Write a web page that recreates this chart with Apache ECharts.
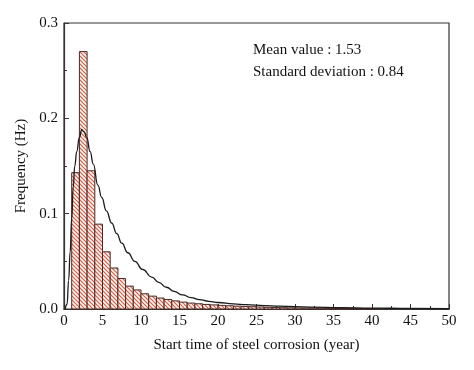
<!DOCTYPE html>
<html>
<head>
<meta charset="utf-8">
<script src="https://cdn.jsdelivr.net/npm/echarts@6/dist/echarts.min.js"></script>
<style>html,body{margin:0;padding:0;background:#fff}#c{width:474px;height:370px}</style>
</head>
<body>
<div id="c"></div>
<script>
// Histogram bins (year start, year end = start + 1) and frequencies
const binStart = [1,2,3,4,5,6,7,8,9,10,11,12,13,14,15,16,17,18,19,20,21,22,23,24,25,26,27,28,29,30,31,32,33,34,35,36,37,38,39,40];
const binFreq = [0.143,0.270,0.145,0.089,0.060,0.043,0.032,0.024,0.020,0.016,0.0135,0.0115,0.010,0.0085,0.0072,0.0062,0.0055,0.0048,0.0043,0.0038,0.0034,0.0030,0.0027,0.0024,0.0021,0.0018,0.0016,0.0014,0.0012,0.0011,0.0010,0.0009,0.0008,0.0007,0.0006,0.0005,0.0005,0.0004,0.0004,0.0003];
// Fitted curve
const curveX = [0.15,0.4,0.6,0.8,1.0,1.2,1.4,1.65,2.0,2.3,2.6,2.95,3.4,3.8,4.4,4.9,5.5,6.2,6.85,7.5,8.3,9.2,10.2,11.4,12.3,13.3,14.3,15.4,16.5,17.6,18.8,20,22,23.7,26,28,32,36,40,45,50];
const curveY = [0,0.005,0.03,0.06,0.095,0.128,0.15,0.165,0.18,0.188,0.186,0.18,0.165,0.152,0.13,0.117,0.103,0.09,0.079,0.069,0.059,0.05,0.0415,0.0335,0.028,0.0228,0.0185,0.0148,0.012,0.0098,0.0081,0.0068,0.0053,0.0045,0.0036,0.003,0.002,0.0014,0.001,0.0006,0.0004];
const annotations = ['Mean value : 1.53', 'Standard deviation : 0.84'];
const xTitle = 'Start time of steel corrosion (year)';
const yTitle = 'Frequency (Hz)';

const FONT = '"Liberation Serif", "DejaVu Serif", serif';

// hatch pattern
const pc = document.createElement('canvas');
pc.width = 4; pc.height = 4;
const g = pc.getContext('2d');
g.fillStyle = '#fdf3ef';
g.fillRect(0,0,4,4);
g.strokeStyle = '#d2604a';
g.lineWidth = 1.2;
g.beginPath();
g.moveTo(-1,-1); g.lineTo(5,5);
g.moveTo(-1,3); g.lineTo(1,5);
g.moveTo(3,-1); g.lineTo(5,1);
g.stroke();

const bars = binStart.map((s,i)=>[s, s+1, binFreq[i]]);
const curve = curveX.map((x,i)=>[x, curveY[i]]);

const chart = echarts.init(document.getElementById('c'), null, {renderer:'canvas'});
chart.setOption({
  animation:false,
  backgroundColor:'#fff',
  grid:{left:64, right:25, top:23, bottom:61, show:true, borderColor:'#333', borderWidth:1.2, backgroundColor:'transparent'},
  xAxis:{
    type:'value', min:0, max:50, interval:5,
    name:xTitle, nameLocation:'middle', nameGap:29,
    nameTextStyle:{fontFamily:FONT, fontSize:15, color:'#111'},
    axisLine:{lineStyle:{color:'#333', width:1.2}},
    axisTick:{inside:true, length:5, lineStyle:{color:'#333'}},
    minorTick:{show:true, splitNumber:2, length:3, lineStyle:{color:'#333'}},
    axisLabel:{fontFamily:FONT, fontSize:15, color:'#111', margin:5},
    splitLine:{show:false}
  },
  yAxis:{
    type:'value', min:0, max:0.3, interval:0.1,
    name:yTitle, nameLocation:'middle', nameGap:31,
    nameTextStyle:{fontFamily:FONT, fontSize:15, color:'#111'},
    axisLine:{show:true, lineStyle:{color:'#333', width:1.2}},
    axisTick:{show:true, inside:true, length:5, lineStyle:{color:'#333'}},
    minorTick:{show:true, splitNumber:2, length:3, lineStyle:{color:'#333'}},
    axisLabel:{fontFamily:FONT, fontSize:15, color:'#111', margin:6, formatter:v=>v.toFixed(1)},
    splitLine:{show:false}
  },
  graphic:[
    {type:'text', left:253, top:43, style:{text:annotations[0], font:'15px '+FONT, fill:'#111'}},
    {type:'text', left:253, top:65, style:{text:annotations[1], font:'15px '+FONT, fill:'#111'}}
  ],
  series:[
    {
      type:'custom', data:bars, z:2,
      renderItem:function(params, api){
        const p0 = api.coord([api.value(0), api.value(2)]);
        const p1 = api.coord([api.value(1), 0]);
        return {type:'rect', shape:{x:p0[0], y:p0[1], width:p1[0]-p0[0], height:p1[1]-p0[1]},
          style:{fill:{image:pc, repeat:'repeat'}, stroke:'#4a2a26', lineWidth:1}};
      }
    },
    {
      type:'line', data:curve, smooth:0.5, smoothMonotone:'x', showSymbol:false, z:3,
      lineStyle:{color:'#1a1a1a', width:1.3}
    }
  ]
});
</script>
</body>
</html>
